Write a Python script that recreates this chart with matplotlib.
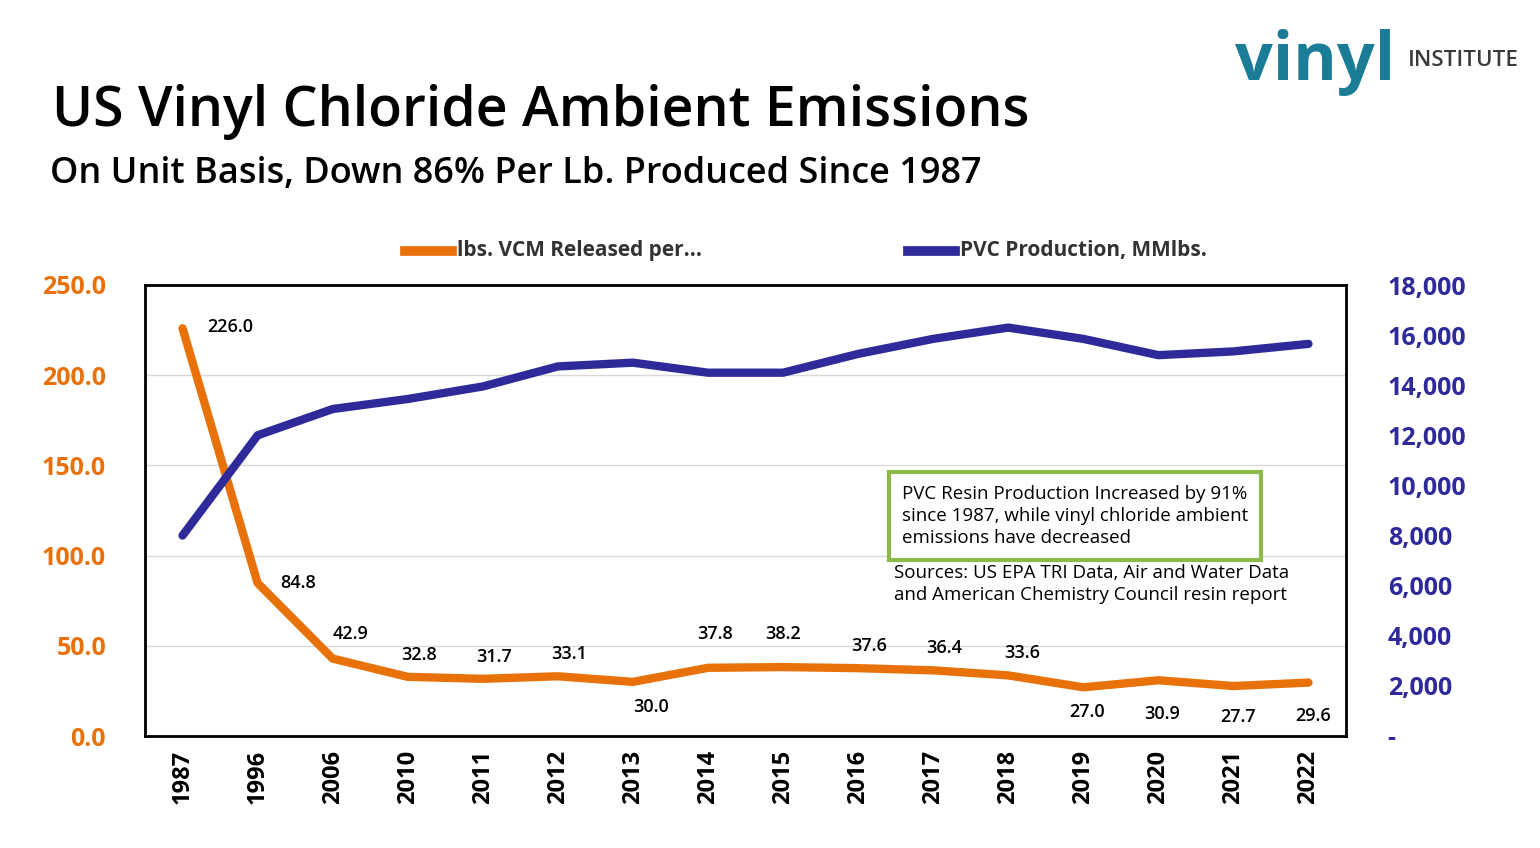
import matplotlib
matplotlib.use("Agg")
import matplotlib.pyplot as plt

years = ["1987","1996","2006","2010","2011","2012","2013","2014","2015","2016","2017","2018","2019","2020","2021","2022"]
vcm = [226.0,84.8,42.9,32.8,31.7,33.1,30.0,37.8,38.2,37.6,36.4,33.6,27.0,30.9,27.7,29.6]
pvc = [8000,12000,13050,13450,13950,14750,14900,14500,14500,15250,15850,16300,15850,15200,15350,15650]

plt.rcParams['font.family'] = ['Open Sans', 'DejaVu Sans']
ORANGE = "#E8710A"; BLUE = "#2E2A9A"
fig = plt.figure(figsize=(15.4, 8.48), dpi=100)
ax = fig.add_axes([145/1540, 1-736/848, (1346-145)/1540, (736-285)/848])
x = list(range(len(years)))
ax.plot(x, vcm, color=ORANGE, lw=6, solid_capstyle='round', zorder=3)
ax.set_ylim(0, 250); ax.set_xlim(-0.5, len(years)-0.5)
ax.set_yticks([0,50,100,150,200,250])
ax.set_yticklabels([f"{v:.1f}" for v in [0,50,100,150,200,250]], color=ORANGE, fontsize=18, fontweight='bold')
ax.set_xticks(x); ax.set_xticklabels(years, rotation=90, fontsize=17, fontweight='bold')
ax.tick_params(axis='y', length=0, pad=28)
ax.tick_params(axis='x', length=0, pad=10)
ax.grid(axis='y', color='#d9d9d9', lw=1)
for s in ax.spines.values(): s.set_linewidth(2)
ax2 = ax.twinx()
ax2.plot(x, pvc, color=BLUE, lw=6, solid_capstyle='round', zorder=2)
ax2.set_ylim(0, 18000)
ax2.set_yticks(range(0, 18001, 2000))
ax2.set_yticklabels(["-"] + [f"{v:,}" for v in range(2000, 18001, 2000)], color=BLUE, fontsize=18, fontweight='bold')
ax2.tick_params(length=0, pad=30)
offs = {0:(34,1),1:(29,0),2:(13,18),3:(8,16),4:(8,16),5:(8,16),6:(13,-18),7:(5,24),8:(0,24),9:(8,16),10:(8,16),11:(10,16),12:(3,-18),13:(3,-24),14:(3,-22),15:(3,-24)}
for i, v in enumerate(vcm):
    dx, dy = offs[i]
    ax.annotate(f"{v:.1f}", (i, v), xytext=(dx, dy), textcoords='offset points', ha='center', va='center', fontsize=13, fontweight='semibold', zorder=5)
fig.text(52/1540, 1-112/848, "US Vinyl Chloride Ambient Emissions", fontsize=40, fontweight='semibold', va='center')
fig.text(50/1540, 1-174/848, "On Unit Basis, Down 86% Per Lb. Produced Since 1987", fontsize=26, fontweight='semibold', va='center')
fig.text(1235/1540, 1-62/848, "vinyl", fontsize=48, fontweight='bold', color='#1A7C96', va='center')
fig.text(1408/1540, 1-60/848, "INSTITUTE", fontsize=16, fontweight='semibold', color='#3a3a3a', va='center')
fig.lines.append(plt.Line2D([405/1540, 452/1540], [1-251/848]*2, color=ORANGE, lw=7, transform=fig.transFigure))
fig.text(457/1540, 1-251/848, "lbs. VCM Released per...", fontsize=15, fontweight='bold', color='#333333', va='center')
fig.lines.append(plt.Line2D([908/1540, 955/1540], [1-251/848]*2, color=BLUE, lw=7, transform=fig.transFigure))
fig.text(960/1540, 1-251/848, "PVC Production, MMlbs.", fontsize=15, fontweight='bold', color='#333333', va='center')
fig.text(902/1540, 1-516/848, "PVC Resin Production Increased by 91%\nsince 1987, while vinyl chloride ambient\nemissions have decreased", fontsize=13.5, va='center', linespacing=1.3, zorder=6,
         bbox=dict(boxstyle='square,pad=0.7', fc='white', ec='#8DB84A', lw=3))
fig.text(894/1540, 1-584/848, "Sources: US EPA TRI Data, Air and Water Data\nand American Chemistry Council resin report", fontsize=13.5, va='center', linespacing=1.3)
fig.savefig("out.png", dpi=100)
